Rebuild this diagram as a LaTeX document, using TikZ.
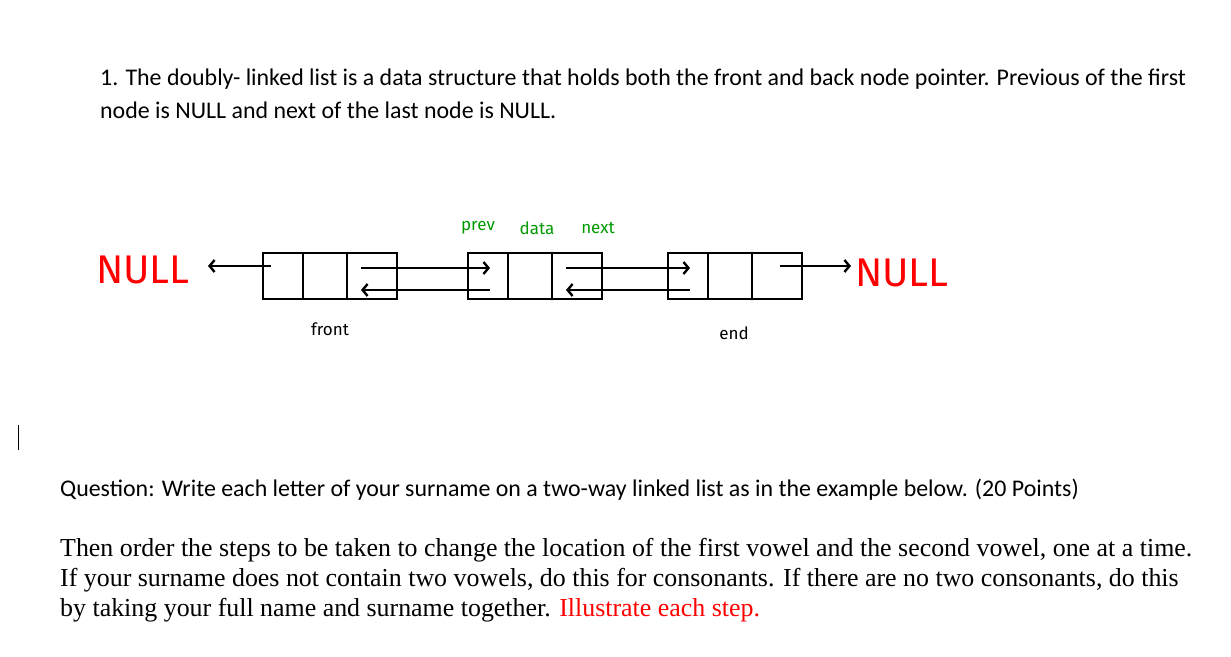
\documentclass[tikz,border=0pt]{standalone}
\usepackage{fontspec}
\setmainfont{Liberation Serif}
\newfontfamily\calfont{Carlito}
\newfontfamily\comicfont{Fira Sans}
\usetikzlibrary{arrows.meta}
\begin{document}
\begin{tikzpicture}[x=1pt,y=-1pt,
  cell/.style={draw,line width=2.4pt,minimum width=44pt,minimum height=46pt,inner sep=0pt,outer sep=0pt},
  ptr/.style={line width=2.4pt,-{Straight Barb[length=5pt,width=12pt]}},
  txt/.style={anchor=base west,inner sep=0pt},
  lbl/.style={font=\comicfont\fontsize{17}{20}\selectfont,inner sep=0pt}]
\useasboundingbox (0,0) rectangle (1231,656);
\node[txt,font=\calfont\fontsize{23.9}{28}\selectfont] (l1) at (100,85) {1. The doubly- linked list is a data structure that holds both the front and back node pointer. Previous of the first};
\node[txt,font=\calfont\fontsize{23.9}{28}\selectfont] (l2) at (100,118) {node is NULL and next of the last node is NULL.};
% nodes
\foreach \n/\x in {a/263,b/468,c/668}{
  \node[cell,minimum width=40pt,anchor=north west] (\n1) at (\x,253) {};
  \node[cell,anchor=north west] (\n2) at (\n1.north east) {};
  \node[cell,minimum width=50pt,anchor=north west] (\n3) at (\n2.north east) {};
}
\node[lbl,text=green!60!black] (pv) at (478,228) {prev};
\node[lbl,text=green!60!black] (dt) at (537,228) {data};
\node[lbl,text=green!60!black] (nx) at (598,228) {next};
\node[lbl] (fr) at (330,329) {front};
\node[lbl] (en) at (734,333) {end};
\node[font=\comicfont\fontsize{40}{44}\selectfont,text=red,inner sep=0pt] (n0) at (143,270) {NULL};
\node[font=\comicfont\fontsize{40}{44}\selectfont,text=red,inner sep=0pt] (n9) at (902,273) {NULL};
\coordinate (la) at ([yshift=10pt]a1.west);
\coordinate (lb) at ([xshift=18pt]n0.east|-la);
\draw[ptr] ([xshift=8pt]la) -- (lb);
\coordinate (ra) at ([xshift=-22pt,yshift=10pt]c3.east);
\draw[ptr] (ra) -- ([xshift=-4pt]n9.west|-ra);
\foreach \p/\q in {a/b,b/c}{
  \draw[ptr] ([xshift=-36pt,yshift=8pt]\p3.east) -- ([xshift=22pt,yshift=8pt]\q1.west);
  \draw[ptr] ([xshift=22pt,yshift=-14pt]\q1.west) -- ([xshift=-36pt,yshift=-14pt]\p3.east);
}
\draw[line width=0.8pt] (18,425) -- (18,450);
\node[txt,font=\calfont\fontsize{23.9}{28}\selectfont] (q) at (60,496) {Question: Write each letter of your surname on a two-way linked list as in the example below. (20 Points)};
\node[txt,font=\fontsize{25.9}{30}\selectfont] (t1) at (60,556) {Then order the steps to be taken to change the location of the first vowel and the second vowel, one at a time.};
\node[txt,font=\fontsize{25.9}{30}\selectfont] (t2) at (60,586) {If your surname does not contain two vowels, do this for consonants. If there are no two consonants, do this};
\node[txt,font=\fontsize{25.9}{30}\selectfont] (t3) at (60,616) {by taking your full name and surname together. \textcolor{red}{Illustrate each step.}};
\end{tikzpicture}
\end{document}
